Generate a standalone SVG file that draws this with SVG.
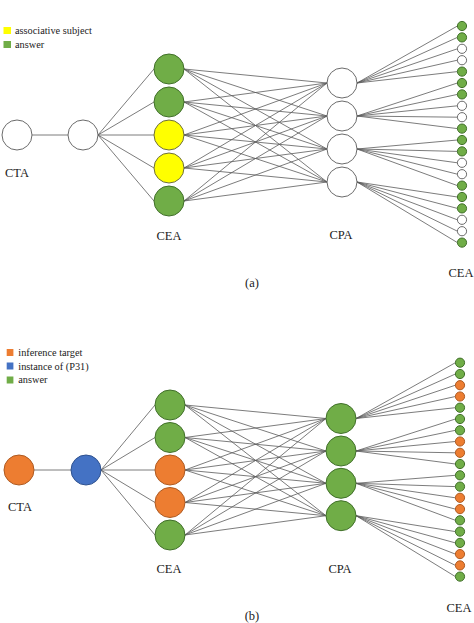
<svg xmlns="http://www.w3.org/2000/svg" width="474" height="623" viewBox="0 0 474 623">
<style>
.e{stroke:#5a5a5a;stroke-width:0.8;fill:none}
.n{stroke-width:1}
.w{fill:#ffffff;stroke:#6b6b6b}
.g{fill:#70AD47;stroke:#41702A}
.y{fill:#FFFF00;stroke:#6e6e40}
.o{fill:#ED7D31;stroke:#AE5A21}
.b{fill:#4472C4;stroke:#2F528F}
text{font-family:"Liberation Serif","Times New Roman",serif;fill:#222}
.lbl{font-size:12.5px;text-anchor:middle}
.leg{font-size:10.3px}
</style>
<rect width="474" height="623" fill="#ffffff"/>

<g id="connectors">
<!-- panel a -->
<line class="e" x1="32" y1="135" x2="68" y2="135"/>
<line class="e" x1="98" y1="135" x2="154" y2="69"/>
<line class="e" x1="98" y1="135" x2="154" y2="102"/>
<line class="e" x1="98" y1="135" x2="154" y2="135"/>
<line class="e" x1="98" y1="135" x2="154" y2="168"/>
<line class="e" x1="98" y1="135" x2="154" y2="201"/>
<line class="e" x1="184" y1="69" x2="327" y2="83"/>
<line class="e" x1="184" y1="69" x2="327" y2="116"/>
<line class="e" x1="184" y1="69" x2="327" y2="149"/>
<line class="e" x1="184" y1="69" x2="327" y2="182"/>
<line class="e" x1="184" y1="102" x2="327" y2="83"/>
<line class="e" x1="184" y1="102" x2="327" y2="116"/>
<line class="e" x1="184" y1="102" x2="327" y2="149"/>
<line class="e" x1="184" y1="102" x2="327" y2="182"/>
<line class="e" x1="184" y1="135" x2="327" y2="83"/>
<line class="e" x1="184" y1="135" x2="327" y2="116"/>
<line class="e" x1="184" y1="135" x2="327" y2="149"/>
<line class="e" x1="184" y1="135" x2="327" y2="182"/>
<line class="e" x1="184" y1="168" x2="327" y2="83"/>
<line class="e" x1="184" y1="168" x2="327" y2="116"/>
<line class="e" x1="184" y1="168" x2="327" y2="149"/>
<line class="e" x1="184" y1="168" x2="327" y2="182"/>
<line class="e" x1="184" y1="201" x2="327" y2="83"/>
<line class="e" x1="184" y1="201" x2="327" y2="116"/>
<line class="e" x1="184" y1="201" x2="327" y2="149"/>
<line class="e" x1="184" y1="201" x2="327" y2="182"/>
<line class="e" x1="357" y1="83" x2="457.4" y2="26"/>
<line class="e" x1="357" y1="83" x2="457.4" y2="37.4"/>
<line class="e" x1="357" y1="83" x2="457.4" y2="48.8"/>
<line class="e" x1="357" y1="83" x2="457.4" y2="60.2"/>
<line class="e" x1="357" y1="83" x2="457.4" y2="71.6"/>
<line class="e" x1="357" y1="116" x2="457.4" y2="83"/>
<line class="e" x1="357" y1="116" x2="457.4" y2="94.4"/>
<line class="e" x1="357" y1="116" x2="457.4" y2="105.8"/>
<line class="e" x1="357" y1="116" x2="457.4" y2="117.2"/>
<line class="e" x1="357" y1="116" x2="457.4" y2="128.6"/>
<line class="e" x1="357" y1="149" x2="457.4" y2="140"/>
<line class="e" x1="357" y1="149" x2="457.4" y2="151.4"/>
<line class="e" x1="357" y1="149" x2="457.4" y2="162.8"/>
<line class="e" x1="357" y1="149" x2="457.4" y2="174.2"/>
<line class="e" x1="357" y1="149" x2="457.4" y2="185.6"/>
<line class="e" x1="357" y1="182" x2="457.4" y2="197"/>
<line class="e" x1="357" y1="182" x2="457.4" y2="208.4"/>
<line class="e" x1="357" y1="182" x2="457.4" y2="219.8"/>
<line class="e" x1="357" y1="182" x2="457.4" y2="231.2"/>
<line class="e" x1="357" y1="182" x2="457.4" y2="242.6"/>
<!-- panel b -->
<line class="e" x1="34" y1="470" x2="71" y2="470"/>
<line class="e" x1="101" y1="470" x2="155" y2="405"/>
<line class="e" x1="101" y1="470" x2="155" y2="437.5"/>
<line class="e" x1="101" y1="470" x2="155" y2="470"/>
<line class="e" x1="101" y1="470" x2="155" y2="502.5"/>
<line class="e" x1="101" y1="470" x2="155" y2="535"/>
<line class="e" x1="185" y1="405" x2="326" y2="418.5"/>
<line class="e" x1="185" y1="405" x2="326" y2="451"/>
<line class="e" x1="185" y1="405" x2="326" y2="483.3"/>
<line class="e" x1="185" y1="405" x2="326" y2="515.7"/>
<line class="e" x1="185" y1="437.5" x2="326" y2="418.5"/>
<line class="e" x1="185" y1="437.5" x2="326" y2="451"/>
<line class="e" x1="185" y1="437.5" x2="326" y2="483.3"/>
<line class="e" x1="185" y1="437.5" x2="326" y2="515.7"/>
<line class="e" x1="185" y1="470" x2="326" y2="418.5"/>
<line class="e" x1="185" y1="470" x2="326" y2="451"/>
<line class="e" x1="185" y1="470" x2="326" y2="483.3"/>
<line class="e" x1="185" y1="470" x2="326" y2="515.7"/>
<line class="e" x1="185" y1="502.5" x2="326" y2="418.5"/>
<line class="e" x1="185" y1="502.5" x2="326" y2="451"/>
<line class="e" x1="185" y1="502.5" x2="326" y2="483.3"/>
<line class="e" x1="185" y1="502.5" x2="326" y2="515.7"/>
<line class="e" x1="185" y1="535" x2="326" y2="418.5"/>
<line class="e" x1="185" y1="535" x2="326" y2="451"/>
<line class="e" x1="185" y1="535" x2="326" y2="483.3"/>
<line class="e" x1="185" y1="535" x2="326" y2="515.7"/>
<line class="e" x1="356" y1="418.5" x2="455.4" y2="362.7"/>
<line class="e" x1="356" y1="418.5" x2="455.4" y2="374"/>
<line class="e" x1="356" y1="418.5" x2="455.4" y2="385.2"/>
<line class="e" x1="356" y1="418.5" x2="455.4" y2="396.5"/>
<line class="e" x1="356" y1="418.5" x2="455.4" y2="407.7"/>
<line class="e" x1="356" y1="451" x2="455.4" y2="419"/>
<line class="e" x1="356" y1="451" x2="455.4" y2="430.3"/>
<line class="e" x1="356" y1="451" x2="455.4" y2="441.5"/>
<line class="e" x1="356" y1="451" x2="455.4" y2="452.8"/>
<line class="e" x1="356" y1="451" x2="455.4" y2="464"/>
<line class="e" x1="356" y1="483.3" x2="455.4" y2="475.3"/>
<line class="e" x1="356" y1="483.3" x2="455.4" y2="486.6"/>
<line class="e" x1="356" y1="483.3" x2="455.4" y2="497.8"/>
<line class="e" x1="356" y1="483.3" x2="455.4" y2="509.1"/>
<line class="e" x1="356" y1="483.3" x2="455.4" y2="520.3"/>
<line class="e" x1="356" y1="515.7" x2="455.4" y2="531.6"/>
<line class="e" x1="356" y1="515.7" x2="455.4" y2="542.9"/>
<line class="e" x1="356" y1="515.7" x2="455.4" y2="554.1"/>
<line class="e" x1="356" y1="515.7" x2="455.4" y2="565.4"/>
<line class="e" x1="356" y1="515.7" x2="455.4" y2="576.6"/>
</g>

<g id="legend-a">
<rect x="3.5" y="27" width="7.5" height="7" fill="#FFFF00"/>
<text class="leg" x="15" y="33.8">associative subject</text>
<rect x="3.5" y="41" width="7.5" height="7" fill="#70AD47"/>
<text class="leg" x="15" y="47.5">answer</text>
</g>

<g id="a-cta"><circle class="n w" cx="17" cy="135" r="15"/><text class="lbl" x="17" y="177">CTA</text></g>
<g id="a-n2"><circle class="n w" cx="83" cy="135" r="15"/></g>
<g id="a-cea">
<circle class="n g" cx="169" cy="69" r="15"/>
<circle class="n g" cx="169" cy="102" r="15"/>
<circle class="n y" cx="169" cy="135" r="15"/>
<circle class="n y" cx="169" cy="168" r="15"/>
<circle class="n g" cx="169" cy="201" r="15"/>
<text class="lbl" x="169" y="240">CEA</text>
</g>
<g id="a-cpa">
<circle class="n w" cx="342" cy="83" r="15"/>
<circle class="n w" cx="342" cy="116" r="15"/>
<circle class="n w" cx="342" cy="149" r="15"/>
<circle class="n w" cx="342" cy="182" r="15"/>
<text class="lbl" x="341" y="239">CPA</text>
</g>
<g id="a-cea2">
<circle class="n g" cx="462" cy="26" r="4.6"/>
<circle class="n g" cx="462" cy="37.4" r="4.6"/>
<circle class="n w" cx="462" cy="48.8" r="4.6"/>
<circle class="n w" cx="462" cy="60.2" r="4.6"/>
<circle class="n g" cx="462" cy="71.6" r="4.6"/>
<circle class="n g" cx="462" cy="83" r="4.6"/>
<circle class="n g" cx="462" cy="94.4" r="4.6"/>
<circle class="n w" cx="462" cy="105.8" r="4.6"/>
<circle class="n w" cx="462" cy="117.2" r="4.6"/>
<circle class="n g" cx="462" cy="128.6" r="4.6"/>
<circle class="n g" cx="462" cy="140" r="4.6"/>
<circle class="n g" cx="462" cy="151.4" r="4.6"/>
<circle class="n w" cx="462" cy="162.8" r="4.6"/>
<circle class="n w" cx="462" cy="174.2" r="4.6"/>
<circle class="n g" cx="462" cy="185.6" r="4.6"/>
<circle class="n g" cx="462" cy="197" r="4.6"/>
<circle class="n g" cx="462" cy="208.4" r="4.6"/>
<circle class="n w" cx="462" cy="219.8" r="4.6"/>
<circle class="n w" cx="462" cy="231.2" r="4.6"/>
<circle class="n g" cx="462" cy="242.6" r="4.6"/>
<text class="lbl" x="461" y="277">CEA</text>
</g>
<text class="lbl" x="252" y="287">(a)</text>

<g id="legend-b">
<rect x="6.7" y="349" width="6.7" height="7" fill="#ED7D31"/>
<text class="leg" x="18.3" y="356">inference target</text>
<rect x="6.7" y="362.5" width="6.7" height="7" fill="#4472C4"/>
<text class="leg" x="18.3" y="369.5">instance of (P31)</text>
<rect x="6.7" y="376.5" width="6.7" height="7" fill="#70AD47"/>
<text class="leg" x="18.3" y="383">answer</text>
</g>

<g id="b-cta"><circle class="n o" cx="19" cy="470" r="15"/><text class="lbl" x="20" y="511">CTA</text></g>
<g id="b-n2"><circle class="n b" cx="86" cy="470" r="15"/></g>
<g id="b-cea">
<circle class="n g" cx="170" cy="405" r="15"/>
<circle class="n g" cx="170" cy="437.5" r="15"/>
<circle class="n o" cx="170" cy="470" r="15"/>
<circle class="n o" cx="170" cy="502.5" r="15"/>
<circle class="n g" cx="170" cy="535" r="15"/>
<text class="lbl" x="169" y="573">CEA</text>
</g>
<g id="b-cpa">
<circle class="n g" cx="341" cy="418.5" r="15"/>
<circle class="n g" cx="341" cy="451" r="15"/>
<circle class="n g" cx="341" cy="483.3" r="15"/>
<circle class="n g" cx="341" cy="515.7" r="15"/>
<text class="lbl" x="340" y="573">CPA</text>
</g>
<g id="b-cea2">
<circle class="n g" cx="460" cy="362.7" r="4.6"/>
<circle class="n g" cx="460" cy="374" r="4.6"/>
<circle class="n o" cx="460" cy="385.2" r="4.6"/>
<circle class="n o" cx="460" cy="396.5" r="4.6"/>
<circle class="n g" cx="460" cy="407.7" r="4.6"/>
<circle class="n g" cx="460" cy="419" r="4.6"/>
<circle class="n g" cx="460" cy="430.3" r="4.6"/>
<circle class="n o" cx="460" cy="441.5" r="4.6"/>
<circle class="n o" cx="460" cy="452.8" r="4.6"/>
<circle class="n g" cx="460" cy="464" r="4.6"/>
<circle class="n g" cx="460" cy="475.3" r="4.6"/>
<circle class="n g" cx="460" cy="486.6" r="4.6"/>
<circle class="n o" cx="460" cy="497.8" r="4.6"/>
<circle class="n o" cx="460" cy="509.1" r="4.6"/>
<circle class="n g" cx="460" cy="520.3" r="4.6"/>
<circle class="n g" cx="460" cy="531.6" r="4.6"/>
<circle class="n g" cx="460" cy="542.9" r="4.6"/>
<circle class="n o" cx="460" cy="554.1" r="4.6"/>
<circle class="n o" cx="460" cy="565.4" r="4.6"/>
<circle class="n g" cx="460" cy="576.6" r="4.6"/>
<text class="lbl" x="459" y="612">CEA</text>
</g>
<text class="lbl" x="252" y="620">(b)</text>
</svg>
